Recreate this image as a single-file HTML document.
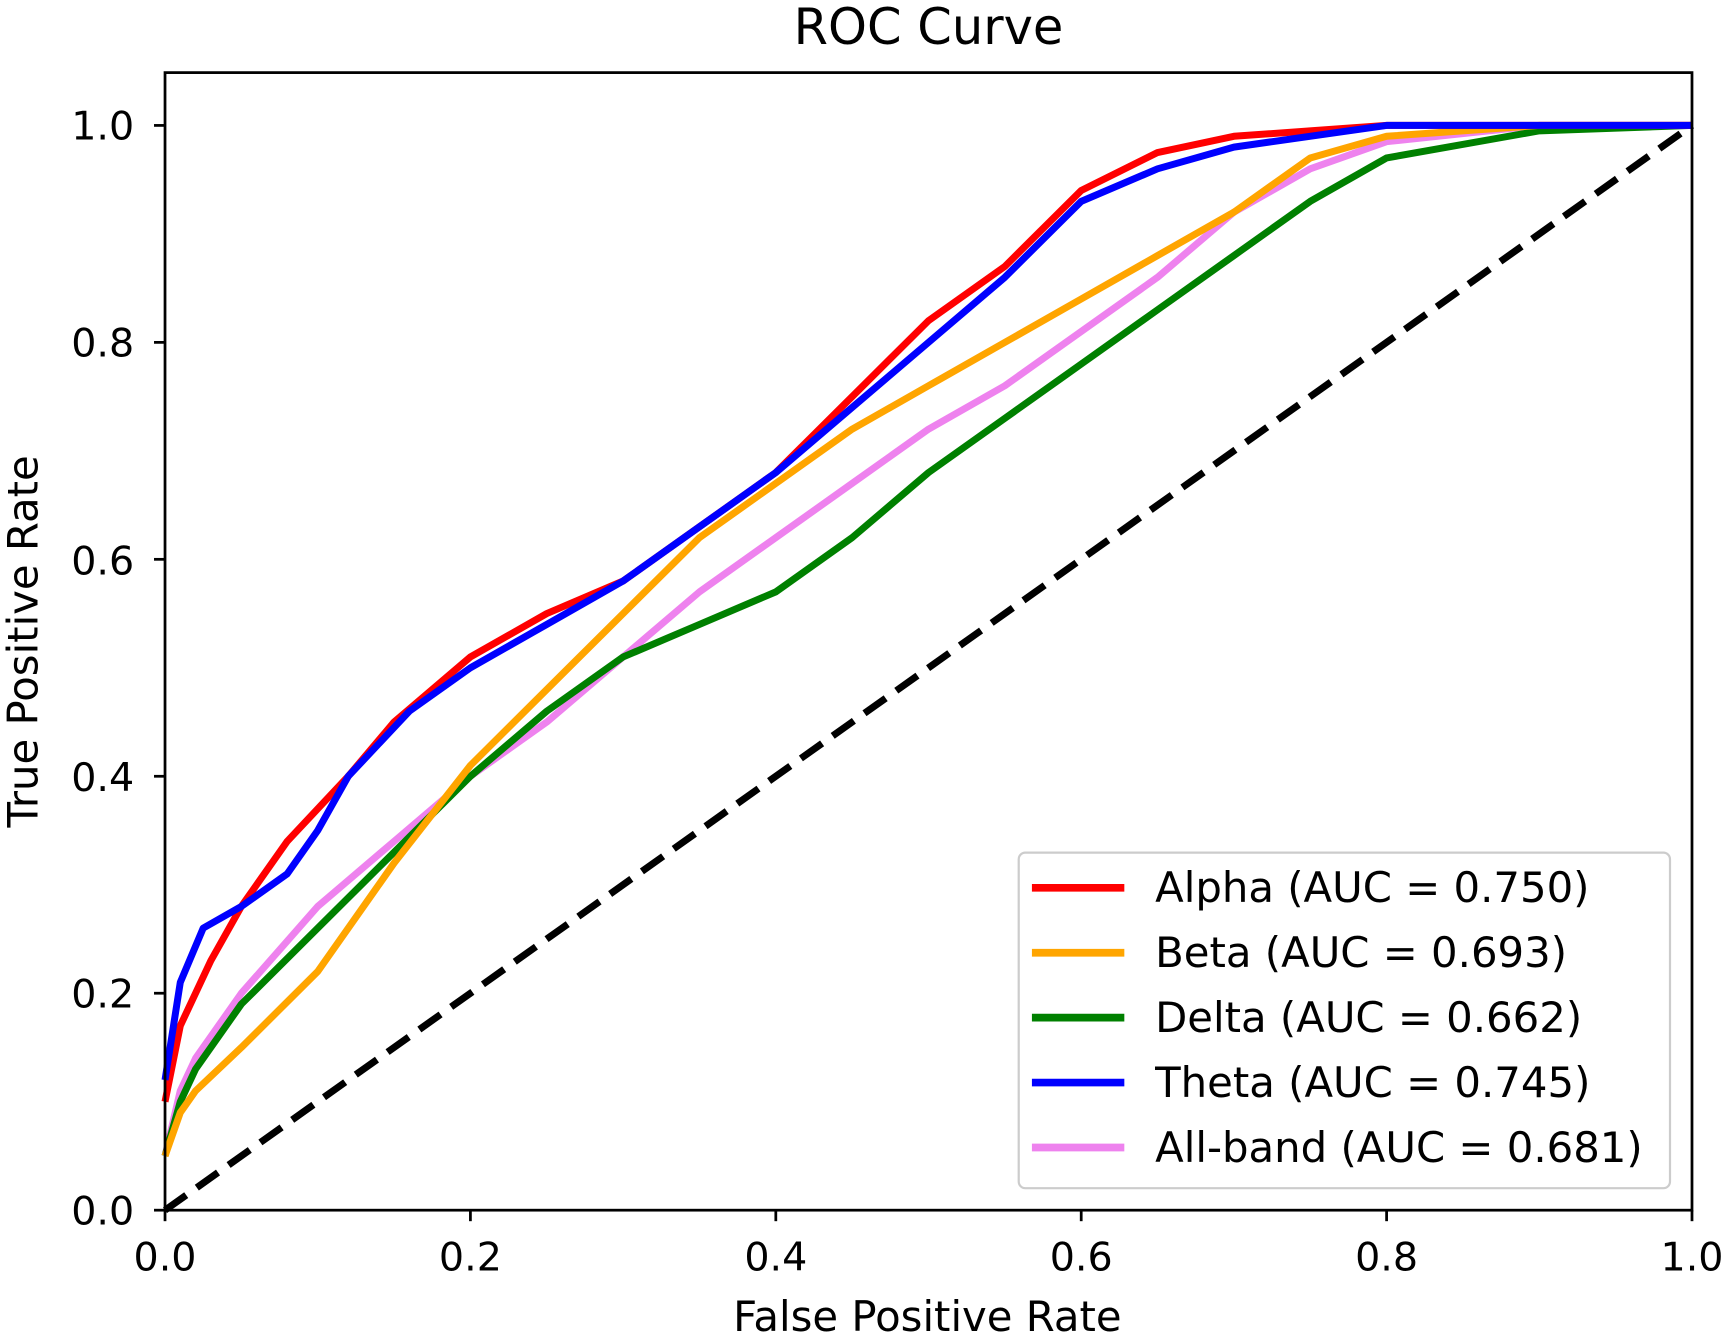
<!DOCTYPE html>
<html><head><meta charset="utf-8"><style>
html,body{margin:0;padding:0;background:#fff;}
svg{display:block;}
text{font-family:"DejaVu Sans","Liberation Sans",sans-serif;fill:#000;}
</style></head><body>
<svg width="1725" height="1340" viewBox="0 0 1568 1218" preserveAspectRatio="none" xmlns="http://www.w3.org/2000/svg">
<rect width="1568" height="1218" fill="#fff"/>
<text x="844" y="40" font-size="45" text-anchor="middle">ROC Curve</text>
<g transform="translate(150,1100) scale(1388,-986)" fill="none" stroke-linejoin="round" stroke-linecap="butt">
<polyline vector-effect="non-scaling-stroke" stroke="#000" stroke-width="7" stroke-dasharray="26,13" points="0,0 1,1"/>
<polyline vector-effect="non-scaling-stroke" stroke="#ee82ee" stroke-width="7" points="0,0.05 0.01,0.11 0.02,0.14 0.05,0.2 0.1,0.28 0.15,0.34 0.2,0.4 0.25,0.45 0.3,0.51 0.35,0.57 0.4,0.62 0.45,0.67 0.5,0.72 0.55,0.76 0.6,0.81 0.65,0.86 0.7,0.92 0.75,0.96 0.8,0.985 0.9,1 1,1"/>
<polyline vector-effect="non-scaling-stroke" stroke="#008000" stroke-width="7" points="0,0.05 0.01,0.1 0.02,0.13 0.05,0.19 0.1,0.26 0.15,0.33 0.2,0.4 0.25,0.46 0.3,0.51 0.35,0.54 0.4,0.57 0.45,0.62 0.5,0.68 0.55,0.73 0.6,0.78 0.65,0.83 0.7,0.88 0.75,0.93 0.8,0.97 0.9,0.995 1,1"/>
<polyline vector-effect="non-scaling-stroke" stroke="#ffa500" stroke-width="7" points="0,0.05 0.01,0.09 0.02,0.11 0.05,0.15 0.1,0.22 0.15,0.32 0.2,0.41 0.25,0.48 0.3,0.55 0.35,0.62 0.4,0.67 0.45,0.72 0.5,0.76 0.55,0.8 0.6,0.84 0.65,0.88 0.7,0.92 0.75,0.97 0.8,0.99 0.9,1 1,1"/>
<polyline vector-effect="non-scaling-stroke" stroke="#ff0000" stroke-width="7" points="0,0.1 0.01,0.17 0.03,0.23 0.05,0.28 0.08,0.34 0.12,0.4 0.15,0.45 0.2,0.51 0.25,0.55 0.3,0.58 0.35,0.63 0.4,0.68 0.45,0.75 0.5,0.82 0.55,0.87 0.6,0.94 0.65,0.975 0.7,0.99 0.8,1 1,1"/>
<polyline vector-effect="non-scaling-stroke" stroke="#0000ff" stroke-width="7" points="0,0.12 0.01,0.21 0.025,0.26 0.05,0.28 0.08,0.31 0.1,0.35 0.12,0.4 0.16,0.46 0.2,0.5 0.25,0.54 0.3,0.58 0.35,0.63 0.4,0.68 0.45,0.74 0.5,0.8 0.55,0.86 0.6,0.93 0.65,0.96 0.7,0.98 0.8,1 1,1"/>
</g>
<rect x="150" y="66" width="1388" height="1034" fill="none" stroke="#000" stroke-width="2.5"/>
<g stroke="#000" stroke-width="2.5">
<line x1="150" y1="1100" x2="150" y2="1110"/><line x1="427.6" y1="1100" x2="427.6" y2="1110"/><line x1="705.2" y1="1100" x2="705.2" y2="1110"/><line x1="982.8" y1="1100" x2="982.8" y2="1110"/><line x1="1260.4" y1="1100" x2="1260.4" y2="1110"/><line x1="1538" y1="1100" x2="1538" y2="1110"/>
<line x1="140" y1="1100" x2="150" y2="1100"/><line x1="140" y1="902.8" x2="150" y2="902.8"/><line x1="140" y1="705.6" x2="150" y2="705.6"/><line x1="140" y1="508.4" x2="150" y2="508.4"/><line x1="140" y1="311.2" x2="150" y2="311.2"/><line x1="140" y1="114" x2="150" y2="114"/>
</g>
<g font-size="36" text-anchor="middle">
<text x="150" y="1155">0.0</text><text x="427.6" y="1155">0.2</text><text x="705.2" y="1155">0.4</text><text x="982.8" y="1155">0.6</text><text x="1260.4" y="1155">0.8</text><text x="1538" y="1155">1.0</text>
</g>
<g font-size="36" text-anchor="end">
<text x="122" y="1113">0.0</text><text x="122" y="916">0.2</text><text x="122" y="719">0.4</text><text x="122" y="522">0.6</text><text x="122" y="324">0.8</text><text x="122" y="127">1.0</text>
</g>
<text x="843" y="1210" font-size="38" text-anchor="middle">False Positive Rate</text>
<text transform="translate(34,583) rotate(-90)" font-size="38" text-anchor="middle">True Positive Rate</text>
<rect x="926" y="775" width="592" height="305" rx="6" fill="#fff" fill-opacity="0.85" stroke="#ccc" stroke-width="2"/>
<g stroke-width="7">
<line x1="938" y1="807" x2="1022" y2="807" stroke="#ff0000"/>
<line x1="938" y1="866" x2="1022" y2="866" stroke="#ffa500"/>
<line x1="938" y1="925" x2="1022" y2="925" stroke="#008000"/>
<line x1="938" y1="984" x2="1022" y2="984" stroke="#0000ff"/>
<line x1="938" y1="1043" x2="1022" y2="1043" stroke="#ee82ee"/>
</g>
<g font-size="38">
<text x="1050" y="820">Alpha (AUC = 0.750)</text>
<text x="1050" y="879">Beta (AUC = 0.693)</text>
<text x="1050" y="938">Delta (AUC = 0.662)</text>
<text x="1050" y="997">Theta (AUC = 0.745)</text>
<text x="1050" y="1056">All-band (AUC = 0.681)</text>
</g>
</svg>
</body></html>
